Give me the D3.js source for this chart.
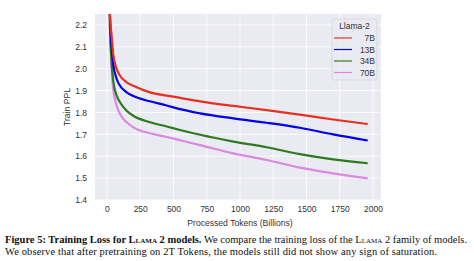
<!DOCTYPE html>
<html>
<head>
<meta charset="utf-8">
<script src="https://cdn.jsdelivr.net/npm/d3@7"></script>
<style>
  body { margin: 0; background: #fff; }
  svg { display: block; }
</style>
</head>
<body>
<svg id="chart" width="474" height="261"></svg>
<script>
// Values
const tokens = [10, 22, 35, 47, 73, 98, 148, 198, 323, 449, 549, 700, 950, 1200, 1450, 1700, 1960];
const ppl7B  = [2.6, 2.25, 2.15, 2.067, 1.999, 1.968, 1.938, 1.922, 1.892, 1.877, 1.867, 1.851, 1.83, 1.811, 1.79, 1.768, 1.747];
const ppl13B = [2.6, 2.25, 2.1, 2.022, 1.953, 1.922, 1.892, 1.875, 1.851, 1.832, 1.815, 1.796, 1.773, 1.753, 1.73, 1.70, 1.672];
const ppl34B = [2.6, 2.2, 2.03, 1.946, 1.877, 1.847, 1.808, 1.785, 1.755, 1.736, 1.72, 1.698, 1.667, 1.641, 1.61, 1.586, 1.568];
const ppl70B = [2.6, 2.2, 2.0, 1.907, 1.831, 1.793, 1.755, 1.732, 1.705, 1.688, 1.673, 1.651, 1.613, 1.583, 1.548, 1.522, 1.499];
const seriesNames = ['7B', '13B', '34B', '70B'];
const seriesColors = ['#e8301e', '#0000ee', '#2b7a1c', '#dc88e0'];
const xTicks = [0, 250, 500, 750, 1000, 1250, 1500, 1750, 2000];
const yTicks = [1.4, 1.5, 1.6, 1.7, 1.8, 1.9, 2.0, 2.1, 2.2];

const series = [ppl7B, ppl13B, ppl34B, ppl70B].map((vals, i) => ({
  name: seriesNames[i],
  color: seriesColors[i],
  points: tokens.map((t, j) => [t, vals[j]])
}));

const svg = d3.select('#chart');
const plot = {left: 95, top: 14, right: 381, bottom: 200};
const sans = 'Liberation Sans, Arial, sans-serif';

const x = d3.scaleLinear().domain([-90, 2060]).range([plot.left, plot.right]);
const y = d3.scaleLinear().domain([1.4, 2.25]).range([plot.bottom, plot.top]);

// Seaborn-like background
svg.append('rect')
  .attr('x', plot.left).attr('y', plot.top)
  .attr('width', plot.right - plot.left).attr('height', plot.bottom - plot.top)
  .attr('fill', '#eaeaf2');

// Grid lines
svg.append('g').selectAll('line').data(xTicks).join('line')
  .attr('x1', d => x(d)).attr('x2', d => x(d))
  .attr('y1', plot.top).attr('y2', plot.bottom)
  .attr('stroke', '#fff').attr('stroke-width', 0.8);
svg.append('g').selectAll('line').data(yTicks).join('line')
  .attr('x1', plot.left).attr('x2', plot.right)
  .attr('y1', d => y(d)).attr('y2', d => y(d))
  .attr('stroke', '#fff').attr('stroke-width', 0.8);

// Axes (labels only, no domain or tick marks)
const xAxis = svg.append('g')
  .attr('transform', `translate(0,${plot.bottom})`)
  .call(d3.axisBottom(x).tickValues(xTicks).tickFormat(d3.format('d')).tickSize(0).tickPadding(6));
const yAxis = svg.append('g')
  .attr('transform', `translate(${plot.left},0)`)
  .call(d3.axisLeft(y).tickValues(yTicks).tickFormat(d3.format('.1f')).tickSize(0).tickPadding(8));
for (let ax of [xAxis, yAxis]) {
  ax.select('.domain').remove();
  ax.selectAll('text')
    .attr('font-family', sans)
    .attr('font-size', 8.5)
    .attr('fill', '#333');
}

svg.append('text')
  .attr('x', 240).attr('y', 225.5)
  .attr('text-anchor', 'middle')
  .attr('font-family', sans)
  .attr('font-size', 8.6).attr('fill', '#333')
  .text('Processed Tokens (Billions)');

svg.append('text')
  .attr('transform', `translate(70,${(plot.top + plot.bottom) / 2}) rotate(-90)`)
  .attr('text-anchor', 'middle')
  .attr('font-family', sans)
  .attr('font-size', 8.6).attr('fill', '#333')
  .text('Train PPL');

// Lines, clipped to the plot area
svg.append('clipPath').attr('id', 'clip')
  .append('rect')
  .attr('x', plot.left).attr('y', plot.top)
  .attr('width', plot.right - plot.left).attr('height', plot.bottom - plot.top);

const line = d3.line()
  .x(d => x(d[0]))
  .y(d => y(d[1]))
  .curve(d3.curveMonotoneX);

svg.append('g').attr('clip-path', 'url(#clip)')
  .selectAll('path').data(series.slice().reverse()).join('path')
  .attr('d', d => line(d.points))
  .attr('fill', 'none')
  .attr('stroke', d => d.color)
  .attr('stroke-width', 2.2)
  .attr('stroke-linejoin', 'round');

// Legend
const legend = svg.append('g');
legend.append('rect')
  .attr('x', 332).attr('y', 19).attr('width', 45).attr('height', 61)
  .attr('rx', 2)
  .attr('fill', '#eaeaf2').attr('fill-opacity', 0.8)
  .attr('stroke', '#d6d6de').attr('stroke-width', 0.8);
legend.append('text')
  .attr('x', 354.5).attr('y', 28.5)
  .attr('text-anchor', 'middle')
  .attr('font-family', sans)
  .attr('font-size', 8.5).attr('fill', '#333')
  .text('Llama-2');
const entries = legend.selectAll('g.entry').data(series).join('g')
  .attr('class', 'entry')
  .attr('transform', (d, i) => `translate(0,${38 + i * 11.5})`);
entries.append('line')
  .attr('x1', 334).attr('x2', 352)
  .attr('stroke', d => d.color).attr('stroke-width', 1.2);
entries.append('text')
  .attr('x', 375).attr('y', 3)
  .attr('text-anchor', 'end')
  .attr('font-family', sans)
  .attr('font-size', 8.5).attr('fill', '#333')
  .text(d => d.name);

// Caption
const cap = svg.append('g')
  .attr('font-family', 'Liberation Serif, Times New Roman, serif')
  .attr('font-size', 10.5).attr('fill', '#111');
const l1 = cap.append('text').attr('x', 5).attr('y', 242.5)
  .attr('textLength', 462).attr('lengthAdjust', 'spacing');
l1.append('tspan').attr('font-weight', 'bold').text('Figure 5: Training Loss for ');
l1.append('tspan').attr('font-weight', 'bold').attr('font-variant', 'small-caps').text('Llama 2');
l1.append('tspan').attr('font-weight', 'bold').text(' models.');
l1.append('tspan').text(' We compare the training loss of the ');
l1.append('tspan').attr('font-variant', 'small-caps').text('Llama 2');
l1.append('tspan').text(' family of models.');
cap.append('text').attr('x', 5).attr('y', 254.5)
  .attr('textLength', 432).attr('lengthAdjust', 'spacing')
  .text('We observe that after pretraining on 2T Tokens, the models still did not show any sign of saturation.');
</script>
</body>
</html>
